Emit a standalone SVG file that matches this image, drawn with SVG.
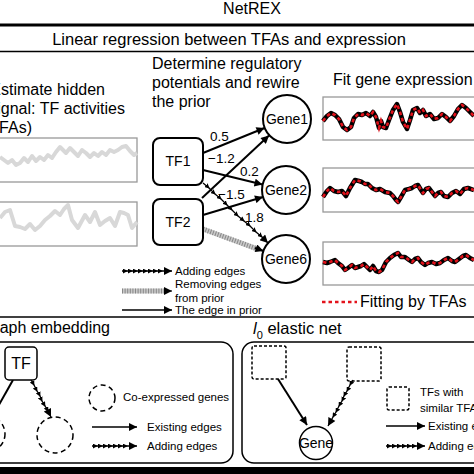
<svg xmlns="http://www.w3.org/2000/svg" width="474" height="474" viewBox="0 0 474 474">
<defs>
<style>
text{font-family:"Liberation Sans",Arial,sans-serif;fill:#000}
.h{font-size:16px}
.h2{font-size:16.5px}
.lg{font-size:11.5px}
.lab{font-size:13.5px}
.nd{font-size:14px}
.node{fill:#fff;stroke:#000;stroke-width:2}
.e{fill:none;stroke:#000;stroke-width:2}
.add{fill:none;stroke:#000;stroke-width:1.3}
.sig{fill:#fff;stroke:#999;stroke-width:1.3}
.gray{fill:none;stroke:#d8d8d8;stroke-width:4;stroke-linejoin:round}
.blk{fill:none;stroke:#000;stroke-width:4.5;stroke-linejoin:round}
.red{fill:none;stroke:#e3121b;stroke-width:2.6;stroke-dasharray:3.5 3}
.dash{fill:none;stroke:#000;stroke-width:1.5;stroke-dasharray:5 3.5}
.sq{fill:none;stroke:#000;stroke-width:1.5;stroke-dasharray:3 2}
.rm1{fill:none;stroke:#c9c9c9;stroke-width:5}
.rm2{fill:none;stroke:#888;stroke-width:5;stroke-dasharray:1 1.6}
.panel{fill:none;stroke:#000;stroke-width:1.5}
</style>
<marker id="ah" viewBox="0 0 10 10" refX="10" refY="5" markerWidth="10" markerHeight="8" markerUnits="userSpaceOnUse" orient="auto"><path d="M0,0 L10,5 L0,10 z"/></marker>
<marker id="am" viewBox="0 0 6 6" refX="5" refY="3" markerWidth="5" markerHeight="5" markerUnits="userSpaceOnUse" orient="auto"><path d="M0,0 L6,3 L0,6 z"/></marker>
</defs>
<rect width="474" height="474" fill="#fff"/>

<!-- headers and separators -->
<text class="h" x="252" y="14" text-anchor="middle">NetREX</text>
<line x1="0" y1="25" x2="474" y2="25" stroke="#000" stroke-width="3"/>
<text class="h2" x="229" y="45" text-anchor="middle">Linear regression between TFAs and expression</text>
<line x1="0" y1="51.5" x2="474" y2="51.5" stroke="#000" stroke-width="1.6"/>
<line x1="0" y1="317" x2="474" y2="317" stroke="#000" stroke-width="1.5"/>
<rect x="0" y="467" width="474" height="7" fill="#000"/>

<!-- top-left: hidden signals -->
<g id="tfa-panel">
<text class="h" x="105" y="95" text-anchor="end">Estimate hidden</text>
<text class="h" x="125" y="114" text-anchor="end">signal: TF activities</text>
<text class="h" x="32" y="133" text-anchor="end">(TFAs)</text>
<rect class="sig" x="-5" y="138" width="142" height="44"/>
<polyline class="gray" points="0,157 4,160 8,163 12,160 16,165 20,163 24,158 28,162 32,156 36,161 40,157 44,160 48,155 52,158 56,152 60,147 62,149 66,153 70,148 74,152 78,156 82,150 86,153 90,157 94,153 98,156 102,152 106,155 110,150 114,152 118,150 122,147 126,146 130,151 134,155 137,153"/>
<rect class="sig" x="-5" y="202" width="142" height="44"/>
<polyline class="gray" points="0,218 5,212 10,210 15,226 20,227 25,229 30,224 35,230 40,226 45,220 50,216 55,211 60,215 64,209 68,205 72,220 78,228 85,215 90,222 95,212 100,225 105,221 110,218 115,226 120,212 124,213 128,215 132,228 137,222"/>
</g>

<!-- middle: regulatory potentials -->
<text class="h" x="152" y="69">Determine regulatory</text>
<text class="h" x="152" y="88">potentials and rewire</text>
<text class="h" x="152" y="107">the prior</text>

<g id="connectors">
<line class="e" x1="203" y1="153" x2="264.5" y2="128" marker-end="url(#ah)"/>
<line class="e" x1="202" y1="198" x2="269" y2="135.5" marker-end="url(#ah)"/>
<line class="e" x1="203" y1="170" x2="262.5" y2="184.5" marker-end="url(#ah)"/>
<line class="e" x1="203" y1="215" x2="263" y2="197" marker-end="url(#ah)"/>
<polyline class="add" points="203,183 209,188 215,194 221,199 227,205 232,210 238,216 244,221 250,226 256,232 262,237 268,243" marker-mid="url(#am)" marker-end="url(#ah)"/>
<line class="rm1" x1="203" y1="229" x2="257" y2="248.8"/>
<line class="rm2" x1="203" y1="229" x2="257" y2="248.8"/>
<line class="e" x1="255" y1="248" x2="263.5" y2="251" stroke-width="1" marker-end="url(#ah)"/>
<!-- bottom-left -->
<line class="e" x1="13" y1="380" x2="-4" y2="410" stroke-width="1.5"/>
<polyline class="add" points="31,380 34,385 37,391 40,396 42,401 45,406 48,411 51,417" marker-mid="url(#am)" marker-end="url(#ah)"/>
<!-- bottom-right -->
<line class="e" x1="278" y1="379" x2="307" y2="425" stroke-width="1.5" marker-end="url(#ah)"/>
<polyline class="add" points="353,380 350,385 347,391 344,396 342,401 339,406 336,412 333,417 328,426" marker-mid="url(#am)" marker-end="url(#ah)"/>
</g>

<text class="lab" x="210" y="141">0.5</text>
<text class="lab" x="208" y="163">−1.2</text>
<text class="lab" x="240" y="176">0.2</text>
<text class="lab" x="218" y="199">−1.5</text>
<text class="lab" x="245" y="222">1.8</text>

<g id="tf1"><rect class="node" x="153" y="138" width="50" height="47" rx="7"/><text class="nd" x="178" y="166" text-anchor="middle">TF1</text></g>
<g id="tf2"><rect class="node" x="153" y="199" width="50" height="46" rx="7"/><text class="nd" x="178" y="227" text-anchor="middle">TF2</text></g>
<g id="gene1"><circle class="node" cx="287" cy="119" r="24"/><text class="nd" x="287" y="124" text-anchor="middle">Gene1</text></g>
<g id="gene2"><circle class="node" cx="286" cy="190" r="24"/><text class="nd" x="286" y="195" text-anchor="middle">Gene2</text></g>
<g id="gene6"><circle class="node" cx="286" cy="259" r="24"/><text class="nd" x="286" y="264" text-anchor="middle">Gene6</text></g>

<!-- middle legend -->
<g id="legend-top">
<polyline class="add" points="122,271 127,271 132,271 137,271 142,271 147,271 152,271 157,271 162,271 172,271" marker-mid="url(#am)" marker-end="url(#ah)"/>
<text class="lg" x="175" y="275">Adding edges</text>
<line class="rm1" x1="122" y1="291" x2="166" y2="291"/>
<line class="rm2" x1="122" y1="291" x2="166" y2="291"/>
<line x1="164" y1="291" x2="172" y2="291" stroke="#000" stroke-width="1" marker-end="url(#ah)"/>
<text class="lg" x="175" y="288">Removing edges</text>
<text class="lg" x="175" y="302">from prior</text>
<line x1="122" y1="310" x2="172" y2="310" stroke="#000" stroke-width="1.5" marker-end="url(#ah)"/>
<text class="lg" x="175" y="314">The edge in prior</text>
</g>

<!-- top-right: fit gene expression -->
<g id="fit-panel">
<text class="h" x="333" y="85">Fit gene expression</text>
<rect class="sig" x="323" y="97" width="160" height="43"/>
<rect class="sig" x="323" y="168" width="160" height="44"/>
<rect class="sig" x="323" y="242" width="160" height="43"/>
<polyline class="blk" points="323,121 327,116 331,113 335,115 339,119 343,127 347,130 351,127 354,118 358,114 362,115 366,113 370,116 373,112 376,117 379,128 381,121 383,127 386,128 389,120 393,110 397,104 400,112 403,122 407,129 410,120 413,110 417,108 420,113 423,110 426,116 430,114 434,119 438,118 442,114 446,117 450,121 454,116 458,109 462,105 466,108 470,112 474,116"/>
<polyline class="red" points="323,121 327,116 331,113 335,115 339,119 343,127 347,130 351,127 354,118 358,114 362,115 366,113 370,116 373,112 376,117 379,128 381,121 383,127 386,128 389,120 393,110 397,104 400,112 403,122 407,129 410,120 413,110 417,108 420,113 423,110 426,116 430,114 434,119 438,118 442,114 446,117 450,121 454,116 458,109 462,105 466,108 470,112 474,116"/>
<polyline class="blk" points="323,197 327,191 330,188 334,191 338,192 342,191 346,196 350,188 355,180 359,181 362,182 365,184 368,184 372,188 376,190 380,189 385,192 390,193 393,196 396,200 398,202 401,197 405,190 409,189 412,188 415,186 418,185 421,190 423,193 426,189 429,188 432,192 435,196 438,193 441,192 444,196 448,197 452,193 456,191 460,194 464,189 468,188 474,190"/>
<polyline class="red" points="323,197 327,191 330,188 334,191 338,192 342,191 346,196 350,188 355,180 359,181 362,182 365,184 368,184 372,188 376,190 380,189 385,192 390,193 393,196 396,200 398,202 401,197 405,190 409,189 412,188 415,186 418,185 421,190 423,193 426,189 429,188 432,192 435,196 438,193 441,192 444,196 448,197 452,193 456,191 460,194 464,189 468,188 474,190"/>
<polyline class="blk" points="323,262 327,263 330,262 335,260 338,263 342,266 345,270 348,268 352,265 355,268 358,267 361,266 364,264 367,267 370,270 373,266 376,271 379,272 382,270 386,262 390,258 394,255 398,253 401,257 405,257 409,260 412,262 415,259 418,258 421,262 425,265 428,263 432,262 436,264 440,263 444,260 448,258 452,261 455,262 459,259 463,256 466,255 470,258 474,260"/>
<polyline class="red" points="323,262 327,263 330,262 335,260 338,263 342,266 345,270 348,268 352,265 355,268 358,267 361,266 364,264 367,267 370,270 373,266 376,271 379,272 382,270 386,262 390,258 394,255 398,253 401,257 405,257 409,260 412,262 415,259 418,258 421,262 425,265 428,263 432,262 436,264 440,263 444,260 448,258 452,261 455,262 459,259 463,256 466,255 470,258 474,260"/>
<line class="red" x1="322" y1="302" x2="357" y2="302" stroke-width="3" stroke-dasharray="5.5 3"/>
<text class="h" x="360" y="307">Fitting by TFAs</text>
</g>

<!-- bottom-left: graph embedding -->
<g id="graph-embedding">
<text class="h" x="110" y="333" text-anchor="end">Graph embedding</text>
<rect class="panel" x="-20" y="342" width="253" height="121" rx="12"/>
<circle class="dash" cx="-13" cy="434" r="18"/>
<circle class="dash" cx="55" cy="435" r="18"/>
<circle class="dash" cx="102" cy="398" r="13"/>
<text class="lg" x="123" y="401">Co-expressed genes</text>
<line x1="92" y1="427" x2="137" y2="427" stroke="#000" stroke-width="1.5" marker-end="url(#ah)"/>
<text class="lg" x="147" y="431">Existing edges</text>
<polyline class="add" points="92,446 97,446 102,446 107,446 112,446 117,446 122,446 127,446 137,446" marker-mid="url(#am)" marker-end="url(#ah)"/>
<text class="lg" x="147" y="450">Adding edges</text>
</g>
<g id="tf-ge"><rect fill="#fff" stroke="#000" stroke-width="1.5" x="5" y="347" width="32" height="33" rx="4"/><text class="h" x="21" y="369" text-anchor="middle">TF</text></g>

<!-- bottom-right: l0 elastic net -->
<g id="elastic-net">
<text class="h2" x="253" y="334"><tspan font-style="italic">l</tspan><tspan font-size="11" dy="5">0</tspan><tspan dy="-5"> elastic net</tspan></text>
<rect class="panel" x="242" y="342" width="260" height="121" rx="12"/>
<rect class="sq" x="387" y="387" width="22" height="23" rx="2"/>
<text class="lg" x="420" y="396">TFs with</text>
<text class="lg" x="420" y="412">similar TFAs</text>
<line x1="386" y1="426" x2="425" y2="426" stroke="#000" stroke-width="1.5" marker-end="url(#ah)"/>
<text class="lg" x="428" y="430">Existing edges</text>
<polyline class="add" points="386,446 391,446 396,446 401,446 406,446 411,446 416,446 425,446" marker-mid="url(#am)" marker-end="url(#ah)"/>
<text class="lg" x="428" y="450">Adding edges</text>
</g>
<g id="tf-a"><rect class="sq" x="252" y="346" width="34" height="33" rx="2"/></g>
<g id="tf-b"><rect class="sq" x="347" y="347" width="34" height="34" rx="2"/></g>
<g id="gene"><circle fill="#fff" stroke="#000" stroke-width="1.5" cx="316" cy="443" r="16.5"/><text class="nd" x="316" y="448" text-anchor="middle" font-size="13.5">Gene</text></g>
</svg>
